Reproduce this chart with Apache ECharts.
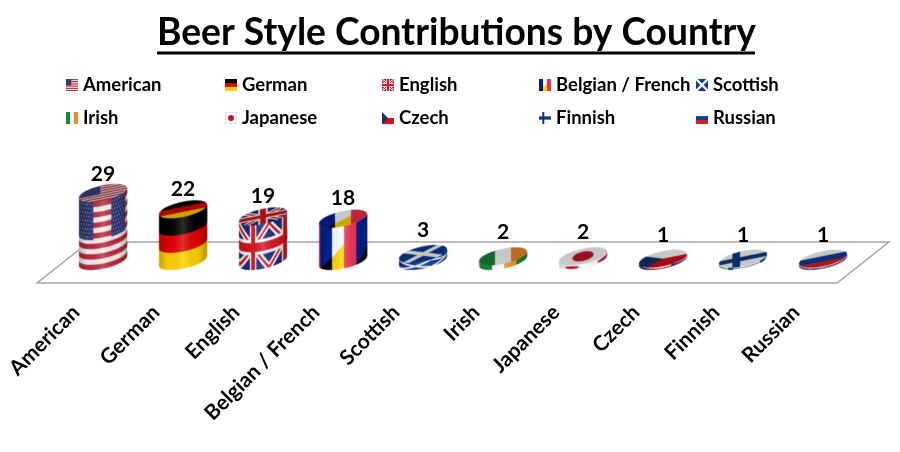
<!DOCTYPE html>
<html><head><meta charset="utf-8">
<script src="https://cdn.jsdelivr.net/npm/echarts@6/dist/echarts.min.js"></script>
<style>html,body{margin:0;padding:0;background:#fff}#c{width:900px;height:452px}</style>
</head><body><div id="c"></div>
<script>
var categories = ['American','German','English','Belgian / French','Scottish','Irish','Japanese','Czech','Finnish','Russian'];
var values = [29,22,19,18,3,2,2,1,1,1];
var titleText = 'Beer Style Contributions by Country';

var FW=240, FH=144;
function stripesV(g,cols,w,h){cols.forEach(function(c,i){g.fillStyle=c;g.fillRect(i*w/cols.length,0,w/cols.length+1,h);});}
function stripesH(g,cols,w,h){cols.forEach(function(c,i){g.fillStyle=c;g.fillRect(0,i*h/cols.length,w,h/cols.length+1);});}
function ln(g,c,lw,x1,y1,x2,y2){g.strokeStyle=c;g.lineWidth=lw;g.beginPath();g.moveTo(x1,y1);g.lineTo(x2,y2);g.stroke();}
var painters = {
 American:function(g,w,h){
  for(var i=0;i<13;i++){g.fillStyle=i%2?'#f4f0f0':'#b8273a';g.fillRect(0,i*h/13,w,h/13+1);}
  g.fillStyle='#2c3470';g.fillRect(0,0,w*0.44,h*0.56);
  g.fillStyle='#c8cce0';
  for(var r=0;r<9;r++)for(var c=0;c<(r%2?5:6);c++){g.beginPath();g.arc(w*(0.035+c*0.074+(r%2?0.037:0)),h*(0.04+r*0.06),w*0.009,0,7);g.fill();}
 },
 German:function(g,w,h){stripesH(g,['#000','#e00000','#ffd000'],w,h);},
 English:function(g,w,h){
  g.fillStyle='#1c2a78';g.fillRect(0,0,w,h);
  ln(g,'#fff',h*0.2,0,0,w,h);ln(g,'#fff',h*0.2,w,0,0,h);
  ln(g,'#d8141e',h*0.07,0,0,w,h);ln(g,'#d8141e',h*0.07,w,0,0,h);
  g.fillStyle='#fff';g.fillRect(w*0.5-h*0.17,0,h*0.34,h);g.fillRect(0,h*0.33,w,h*0.34);
  g.fillStyle='#d8141e';g.fillRect(w*0.5-h*0.1,0,h*0.2,h);g.fillRect(0,h*0.4,w,h*0.2);
 },
 'Belgian / French':function(g,w,h){
  stripesV(g,['#001f8f','#ffffff','#f03050'],w,h);
  g.save();g.beginPath();g.moveTo(0,h);g.lineTo(w,h*0.12);g.lineTo(w,h);g.closePath();g.clip();
  stripesV(g,['#000000','#ffd800','#f03050'],w,h);g.restore();
 },
 Scottish:function(g,w,h){
  g.fillStyle='#0b3a96';g.fillRect(0,0,w,h);
  ln(g,'#fff',h*0.2,0,0,w,h);ln(g,'#fff',h*0.2,w,0,0,h);
 },
 Irish:function(g,w,h){stripesV(g,['#16863c','#ffffff','#f58a2a'],w,h);},
 Japanese:function(g,w,h){
  g.fillStyle='#fff';g.fillRect(0,0,w,h);
  if(w===h){g.strokeStyle='#d0d0d0';g.lineWidth=w*0.08;g.strokeRect(0,0,w,h);}
  g.fillStyle='#c8102e';
  g.beginPath();g.ellipse(w/2,h/2,w>h?w*0.22:w*0.25,w>h?h*0.3:h*0.25,0,0,7);g.fill();
 },
 Czech:function(g,w,h){
  stripesH(g,['#ffffff','#d0101e'],w,h);g.fillStyle='#12306e';
  g.beginPath();g.moveTo(0,0);g.lineTo(w*0.5,h/2);g.lineTo(0,h);g.closePath();g.fill();
 },
 Finnish:function(g,w,h){
  g.fillStyle='#fff';g.fillRect(0,0,w,h);g.fillStyle='#0c3a82';
  g.fillRect(w*0.28,0,w*0.16,h);g.fillRect(0,h*0.37,w,h*0.26);
 },
 Russian:function(g,w,h){stripesH(g,['#ffffff','#0a3aa0','#d0201c'],w,h);}
};
var wrapCfg = {American:[-24,32],English:[-26,32],'Belgian / French':[-23,36],Irish:[-23,36],Japanese:[-27,32]};

function flagCanvas(name,w,h){var c=document.createElement('canvas');c.width=w;c.height=h;painters[name](c.getContext('2d'),w,h);return c;}
var flags={},icons={};
categories.forEach(function(n){flags[n]=flagCanvas(n,FW,FH);icons[n]=flagCanvas(n,44,44).toDataURL();});

function paintCylinder(name,a,b,s,h){
 var S=3,pad=2,ext=Math.sqrt(b*b+s*s)+2;
 var W=2*a+2*pad,H=h+2*ext;
 var cv=document.createElement('canvas');cv.width=Math.ceil(W*S);cv.height=Math.ceil(H*S);
 var g=cv.getContext('2d');g.scale(S,S);
 var cx=W/2,cy=ext,flag=flags[name];
 var cfg=wrapCfg[name]||[-a,32];
 var k=a/24,x0=cfg[0]*k,per=cfg[1]*k;
 var step=1/S;
 for(var x=-a;x<a;x+=step){
  var X=Math.max(-1,Math.min(1,(x+step/2)/a));
  var arc=-s*X+b*Math.sqrt(1-X*X);
  var u=((x-x0)/per)%1;if(u<0)u+=1;
  g.drawImage(flag,Math.min(FW-1,u*FW),0,1,FH,cx+x,cy+arc,step+0.05,h);
 }
 g.save();g.beginPath();
 for(var i=0;i<=60;i++){var t=Math.PI*(1-i/60);var px=a*Math.cos(t),py=-s*Math.cos(t)+b*Math.sin(t);i?g.lineTo(cx+px,cy+py):g.moveTo(cx+px,cy+py);}
 for(i=0;i<=60;i++){t=Math.PI*i/60;px=a*Math.cos(t);py=-s*Math.cos(t)+b*Math.sin(t)+h;g.lineTo(cx+px,cy+py);}
 g.closePath();g.clip();
 var gr=g.createLinearGradient(cx-a,0,cx+a,0);
 gr.addColorStop(0,'rgba(0,0,0,0.22)');gr.addColorStop(0.18,'rgba(0,0,0,0.03)');
 gr.addColorStop(0.5,'rgba(255,255,255,0.18)');gr.addColorStop(0.8,'rgba(0,0,0,0.04)');gr.addColorStop(1,'rgba(0,0,0,0.28)');
 g.fillStyle=gr;g.fillRect(0,0,W,H);g.restore();
 g.save();g.translate(cx,cy);g.transform(1,-s/a,0,1,0,0);
 g.beginPath();g.ellipse(0,0,a,b,0,0,Math.PI*2);g.clip();
 g.drawImage(flag,-a,-b,2*a,2*b);
 g.fillStyle='rgba(0,0,0,0.22)';g.fillRect(-a,-b,2*a,2*b);
 g.restore();
 var soft=document.createElement('canvas');soft.width=cv.width;soft.height=cv.height;
 var sg=soft.getContext('2d');sg.filter='blur(1.5px)';sg.drawImage(cv,0,0);
 return {canvas:soft,w:soft.width/S,h:soft.height/S,ox:W/2,oy:ext};
}

function renderCol(params,api){
 var catI=api.value(0),v=api.value(1);
 var c=api.coord([catI,v]),o=api.coord([catI,0]);
 var a=api.size([1,0])[0]*0.3,b=a*0.32,s=a*0.2,h=o[1]-c[1];
 var pic=paintCylinder(params.seriesName,a,b,s,h);
 return {type:'group',children:[
  {type:'image',style:{image:pic.canvas,x:c[0]-pic.ox,y:c[1]-pic.oy,width:pic.w,height:pic.h}},
  {type:'text',style:{text:String(v),x:c[0],y:c[1]-24+0.2*v,align:'center',verticalAlign:'middle',font:'bold 21px Lato',fill:'#000'}}
 ]};
}

var legendLefts=[66,225,382,539,696],legendTops=[75.5,108.5];
var legends=categories.map(function(n,i){
 return {left:legendLefts[i%5],top:legendTops[Math.floor(i/5)],data:[{name:n,icon:'image://'+icons[n]}],
  itemWidth:12,itemHeight:12,itemGap:0,selectedMode:false,padding:0,
  textStyle:{fontFamily:'Lato',fontWeight:'bold',fontSize:18.5,color:'#000'}};
});

var chart=echarts.init(document.getElementById('c'),null,{renderer:'canvas'});
chart.setOption({
 animation:false,backgroundColor:'#fff',
 title:{text:titleText,left:157,top:15,padding:0,textStyle:{fontFamily:'Lato',fontWeight:'bold',fontSize:37.2,color:'#000'}},
 legend:legends,
 grid:{left:63,width:800,top:190.5,height:70.5,containLabel:false},
 xAxis:{type:'category',data:categories,axisLine:{show:false},axisTick:{show:false},
  axisLabel:{interval:0,rotate:45,margin:21,padding:[0,38,0,0],fontFamily:'Lato',fontWeight:'bold',fontSize:21,color:'#000'}},
 yAxis:{type:'value',min:0,max:30,show:false},
 graphic:[
  {type:'polygon',z:0,shape:{points:[[37,283],[837,283],[889,242],[89,242]]},style:{fill:'#fff',stroke:'#a6a6a6',lineWidth:1.5}},
  {type:'rect',z:5,shape:{x:157,y:51.5,width:598,height:3},style:{fill:'#000'}}
 ],
 series:categories.map(function(n,i){
  return {name:n,type:'custom',clip:false,renderItem:renderCol,z:3,encode:{x:0,y:1},data:[[n,values[i]]]};
 })
});
</script></body></html>
